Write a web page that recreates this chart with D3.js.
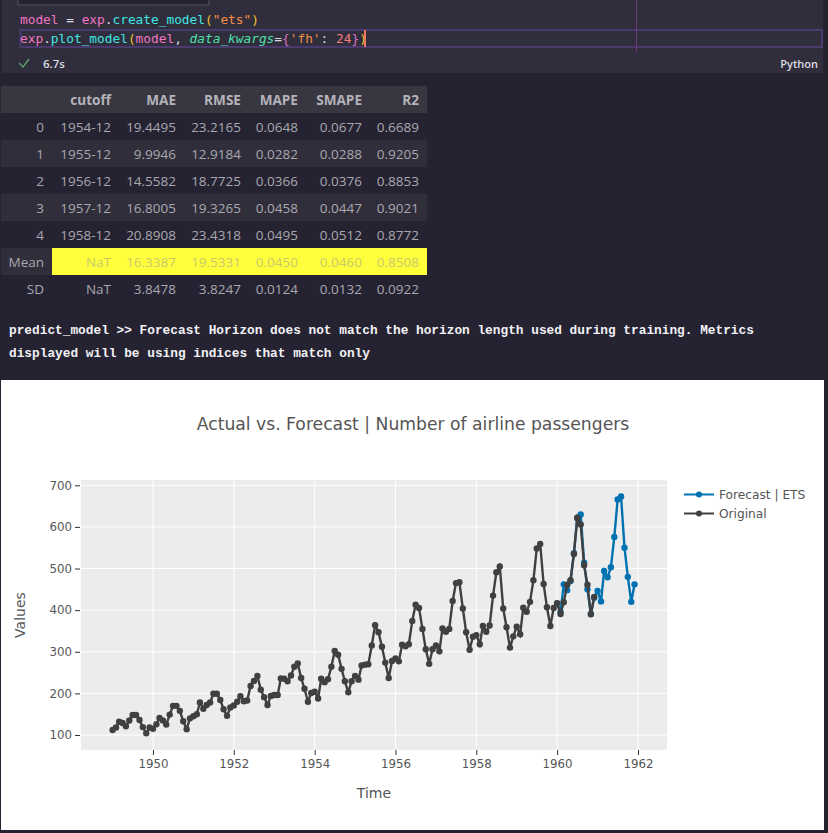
<!DOCTYPE html>
<html lang="en">
<head>
    <meta charset="UTF-8">
    <title>Actual vs. Forecast</title>
    <script src="https://d3js.org/d3.v7.min.js" type="text/JavaScript"></script>
    <style>
        html, body { margin: 0; padding: 0; background: #252332; overflow: hidden; }
        svg { display: block; }
    </style>
</head>

<body>
<svg height="833" id="page" width="828"></svg>
<script>
    // notebook cell text
    var code_lines = [
        [["model", "#f075c0"], [" = ", "#d8d8e0"], ["exp", "#f075c0"], [".", "#d8d8e0"], ["create_model", "#3fe6e0"], ["(", "#f0c030"], ["\"ets\"", "#f48c48"], [")", "#f0c030"]],
        [["exp", "#f075c0"], [".", "#d8d8e0"], ["plot_model", "#3fe6e0"], ["(", "#f0c030"], ["model", "#f075c0"], [", ", "#d8d8e0"], ["data_kwargs", "#4fe0a8", "italic"], ["=", "#d8d8e0"], ["{", "#d870c0"], ["'fh'", "#f48c48"], [": ", "#d8d8e0"], ["24", "#f47c7c"], ["}", "#d870c0"], [")", "#f0c030"]]
    ];
    var warning_lines = [
        "predict_model >> Forecast Horizon does not match the horizon length used during training. Metrics",
        "displayed will be using indices that match only"
    ];

    // table
    var table_columns = ["", "cutoff", "MAE", "RMSE", "MAPE", "SMAPE", "R2"];
    var row_labels = ["0", "1", "2", "3", "4", "Mean", "SD"];
    var col_cutoff = ["1954-12", "1955-12", "1956-12", "1957-12", "1958-12", "NaT", "NaT"];
    var col_mae = ["19.4495", "9.9946", "14.5582", "16.8005", "20.8908", "16.3387", "3.8478"];
    var col_rmse = ["23.2165", "12.9184", "18.7725", "19.3265", "23.4318", "19.5331", "3.8247"];
    var col_mape = ["0.0648", "0.0282", "0.0366", "0.0458", "0.0495", "0.0450", "0.0124"];
    var col_smape = ["0.0677", "0.0288", "0.0376", "0.0447", "0.0512", "0.0460", "0.0132"];
    var col_r2 = ["0.6689", "0.9205", "0.8853", "0.9021", "0.8772", "0.8508", "0.0922"];

    // chart
    var chart_title = "Actual vs. Forecast | Number of airline passengers";
    var original_start = new Date(1949, 0, 1);
    var original_values = [
        112, 118, 132, 129, 121, 135, 148, 148, 136, 119, 104, 118,
        115, 126, 141, 135, 125, 149, 170, 170, 158, 133, 114, 140,
        145, 150, 178, 163, 172, 178, 199, 199, 184, 162, 146, 166,
        171, 180, 193, 181, 183, 218, 230, 242, 209, 191, 172, 194,
        196, 196, 236, 235, 229, 243, 264, 272, 237, 211, 180, 201,
        204, 188, 235, 227, 234, 264, 302, 293, 259, 229, 203, 229,
        242, 233, 267, 269, 270, 315, 364, 347, 312, 274, 237, 278,
        284, 277, 317, 313, 318, 374, 413, 405, 355, 306, 271, 306,
        315, 301, 356, 348, 355, 422, 465, 467, 404, 347, 305, 336,
        340, 318, 362, 348, 363, 435, 491, 505, 404, 359, 310, 337,
        360, 342, 406, 396, 420, 472, 548, 559, 463, 407, 362, 405,
        417, 391, 419, 461, 472, 535, 622, 606, 508, 461, 390, 432
    ];
    var forecast_start = new Date(1960, 0, 1);
    var forecast_values = [
        416, 396, 462, 448, 470, 537, 621, 630, 514, 450, 391, 430,
        446, 421, 494, 479, 503, 576, 666, 673, 550, 480, 420, 462
    ];
    var x_ticks = [1950, 1952, 1954, 1956, 1958, 1960, 1962];
    var y_ticks = [100, 200, 300, 400, 500, 600, 700];

    var svg = d3.select("#page");
    var mono = "'DejaVu Sans Mono', monospace";
    var sans = "'Open Sans', 'Noto Sans', sans-serif";
    var verdana = "'DejaVu Sans', Verdana, sans-serif";

    // ---- notebook cell ----
    svg.append("rect").attr("x", 2).attr("y", 0).attr("width", 821).attr("height", 73).attr("fill", "#302e3d");
    svg.append("rect").attr("x", 18).attr("y", -2).attr("width", 191).attr("height", 7).attr("fill", "#252332").attr("stroke", "#55535f");
    svg.append("rect").attr("x", 20.5).attr("y", 30).attr("width", 801.5).attr("height", 17).attr("fill", "none").attr("stroke", "#4a3a6e").attr("stroke-width", 2);
    svg.append("line").attr("x1", 636.5).attr("x2", 636.5).attr("y1", 0).attr("y2", 52).attr("stroke", "#6d3a80");

    code_lines.forEach(function (line, i) {
        let text = svg.append("text").attr("x", 20).attr("y", 24 + i * 19)
            .attr("font-family", mono).attr("font-size", 12.8).attr("xml:space", "preserve");
        line.forEach(function (part) {
            text.append("tspan").text(part[0]).attr("fill", part[1]).attr("font-style", part[2] || "normal");
        });
    });
    svg.append("rect").attr("x", 364).attr("y", 30).attr("width", 2).attr("height", 17).attr("fill", "#f0785a");

    // check mark, run time and language
    svg.append("path").attr("d", d3.line()([[19, 63], [23, 67], [29, 59]]))
        .attr("fill", "none").attr("stroke", "#5f9e6e").attr("stroke-width", 1.4);
    svg.append("text").attr("x", 43).attr("y", 68).text("6.7s")
        .attr("font-family", sans).attr("font-size", 11.5).attr("font-weight", 600).attr("fill", "#dcdce0");
    svg.append("text").attr("x", 818).attr("y", 68).attr("text-anchor", "end").text("Python")
        .attr("font-family", sans).attr("font-size", 11).attr("font-weight", 600).attr("fill", "#dcdce0");

    // ---- results table ----
    var table_rows = row_labels.map(function (label, i) {
        return [label, col_cutoff[i], col_mae[i], col_rmse[i], col_mape[i], col_smape[i], col_r2[i]];
    });
    var col_edges = [1, 52, 119, 199, 262, 370, 427];
    var col_right = [44, 111, 176, 241, 298, 362, 419];
    var row_height = 27;
    var table_top = 86;

    svg.append("rect").attr("x", col_edges[0]).attr("y", table_top).attr("width", col_edges[6] - col_edges[0]).attr("height", row_height).attr("fill", "#383641");
    table_columns.forEach(function (name, j) {
        svg.append("text").attr("x", col_right[j]).attr("y", table_top + 19).attr("text-anchor", "end").text(name)
            .attr("font-family", sans).attr("font-size", 13.6).attr("font-weight", 700).attr("fill", "#b4b3b9");
    });

    var rows = svg.selectAll("g.row")
        .data(table_rows)
        .enter().append("g")
        .attr("class", "row")
        .attr("transform", (d, i) => "translate(0," + (table_top + row_height * (i + 1)) + ")");

    rows.append("rect")
        .attr("x", col_edges[0]).attr("width", col_edges[6] - col_edges[0]).attr("height", row_height)
        .attr("fill", (d, i) => (i % 2 === 1 ? "#302e3b" : "#252332"));
    rows.filter(d => d[0] === "Mean").append("rect")
        .attr("x", col_edges[1]).attr("width", col_edges[6] - col_edges[1]).attr("height", row_height)
        .attr("fill", "#ffff3c");
    rows.each(function (d) {
        let row = d3.select(this);
        d.forEach(function (value, j) {
            row.append("text").attr("x", col_right[j]).attr("y", 19).attr("text-anchor", "end").text(value)
                .attr("font-family", sans).attr("font-size", 13.5)
                .attr("fill", d[0] === "Mean" && j > 0 ? "#c9c96c" : "#a9a8ae");
        });
    });

    // ---- warning text ----
    warning_lines.forEach(function (line, i) {
        svg.append("text").attr("x", 9).attr("y", 334 + i * 23).text(line)
            .attr("font-family", "'Liberation Mono', monospace").attr("font-size", 12.8).attr("font-weight", 700).attr("fill", "#f2f2f4");
    });

    // ---- plot ----
    svg.append("rect").attr("x", 1).attr("y", 380).attr("width", 823).attr("height", 450).attr("fill", "#ffffff");

    var plot = {left: 81, right: 667, top: 480, bottom: 750};
    var xScale = d3.scaleTime()
        .domain([new Date(1950, 0, 1), new Date(1962, 0, 1)])
        .range([153, 638]);
    var yScale = d3.scaleLinear().domain([100, 700]).range([735, 485.3]);

    svg.append("rect").attr("x", plot.left).attr("y", plot.top)
        .attr("width", plot.right - plot.left).attr("height", plot.bottom - plot.top).attr("fill", "#ececec");

    var xAxis = svg.append("g").attr("transform", "translate(0," + plot.bottom + ")")
        .call(d3.axisBottom(xScale).tickValues(x_ticks.map(y => new Date(y, 0, 1))).tickFormat(d3.timeFormat("%Y")).tickSize(5).tickPadding(5));
    var yAxis = svg.append("g").attr("transform", "translate(" + (plot.left - 1) + ",0)")
        .call(d3.axisLeft(yScale).tickValues(y_ticks).tickSize(5).tickPadding(3));

    [xAxis, yAxis].forEach(function (axis) {
        axis.select(".domain").remove();
        axis.selectAll("line").attr("stroke", "#333333");
        axis.selectAll("text").attr("font-family", verdana).attr("font-size", 11.8).attr("fill", "#555555");
    });

    // grid lines
    svg.selectAll("line.gridx").data(x_ticks).enter().append("line").attr("class", "gridx")
        .attr("x1", d => xScale(new Date(d, 0, 1))).attr("x2", d => xScale(new Date(d, 0, 1)))
        .attr("y1", plot.top).attr("y2", plot.bottom).attr("stroke", "#ffffff");
    svg.selectAll("line.gridy").data(y_ticks).enter().append("line").attr("class", "gridy")
        .attr("x1", plot.left).attr("x2", plot.right)
        .attr("y1", d => yScale(d)).attr("y2", d => yScale(d)).attr("stroke", "#ffffff");

    function drawSeries(start, values, color) {
        let points = values.map(function (v, i) {
            return {date: d3.timeMonth.offset(start, i), value: v};
        });
        let line = d3.line().x(d => xScale(d.date)).y(d => yScale(d.value));
        svg.append("path").attr("d", line(points))
            .attr("fill", "none").attr("stroke", color).attr("stroke-width", 2.4);
        svg.append("g").selectAll("circle")
            .data(points)
            .enter().append("circle")
            .attr("cx", d => xScale(d.date))
            .attr("cy", d => yScale(d.value))
            .attr("r", 3.2)
            .attr("fill", color);
    }

    drawSeries(forecast_start, forecast_values, "#0072b2");
    drawSeries(original_start, original_values, "#404040");

    // titles
    svg.append("text").attr("x", 413).attr("y", 430).attr("text-anchor", "middle").text(chart_title)
        .attr("font-family", verdana).attr("font-size", 17.2).attr("fill", "#555555");
    svg.append("text").attr("x", 374).attr("y", 798).attr("text-anchor", "middle").text("Time")
        .attr("font-family", verdana).attr("font-size", 14).attr("fill", "#555555");
    svg.append("text").attr("transform", "translate(25,615) rotate(-90)").attr("text-anchor", "middle").text("Values")
        .attr("font-family", verdana).attr("font-size", 14).attr("fill", "#555555");

    // legend
    var legend_items = [["Forecast | ETS", "#0072b2"], ["Original", "#404040"]];
    var legend = svg.selectAll("g.legend")
        .data(legend_items)
        .enter().append("g")
        .attr("class", "legend")
        .attr("transform", (d, i) => "translate(684," + (494.5 + i * 19) + ")");
    legend.append("line").attr("x1", 0).attr("x2", 30).attr("stroke", d => d[1]).attr("stroke-width", 2);
    legend.append("circle").attr("cx", 15).attr("r", 3).attr("fill", d => d[1]);
    legend.append("text").attr("x", 35).attr("y", 4.5).text(d => d[0])
        .attr("font-family", verdana).attr("font-size", 12.2).attr("fill", "#555555");
</script>
</body>
</html>
